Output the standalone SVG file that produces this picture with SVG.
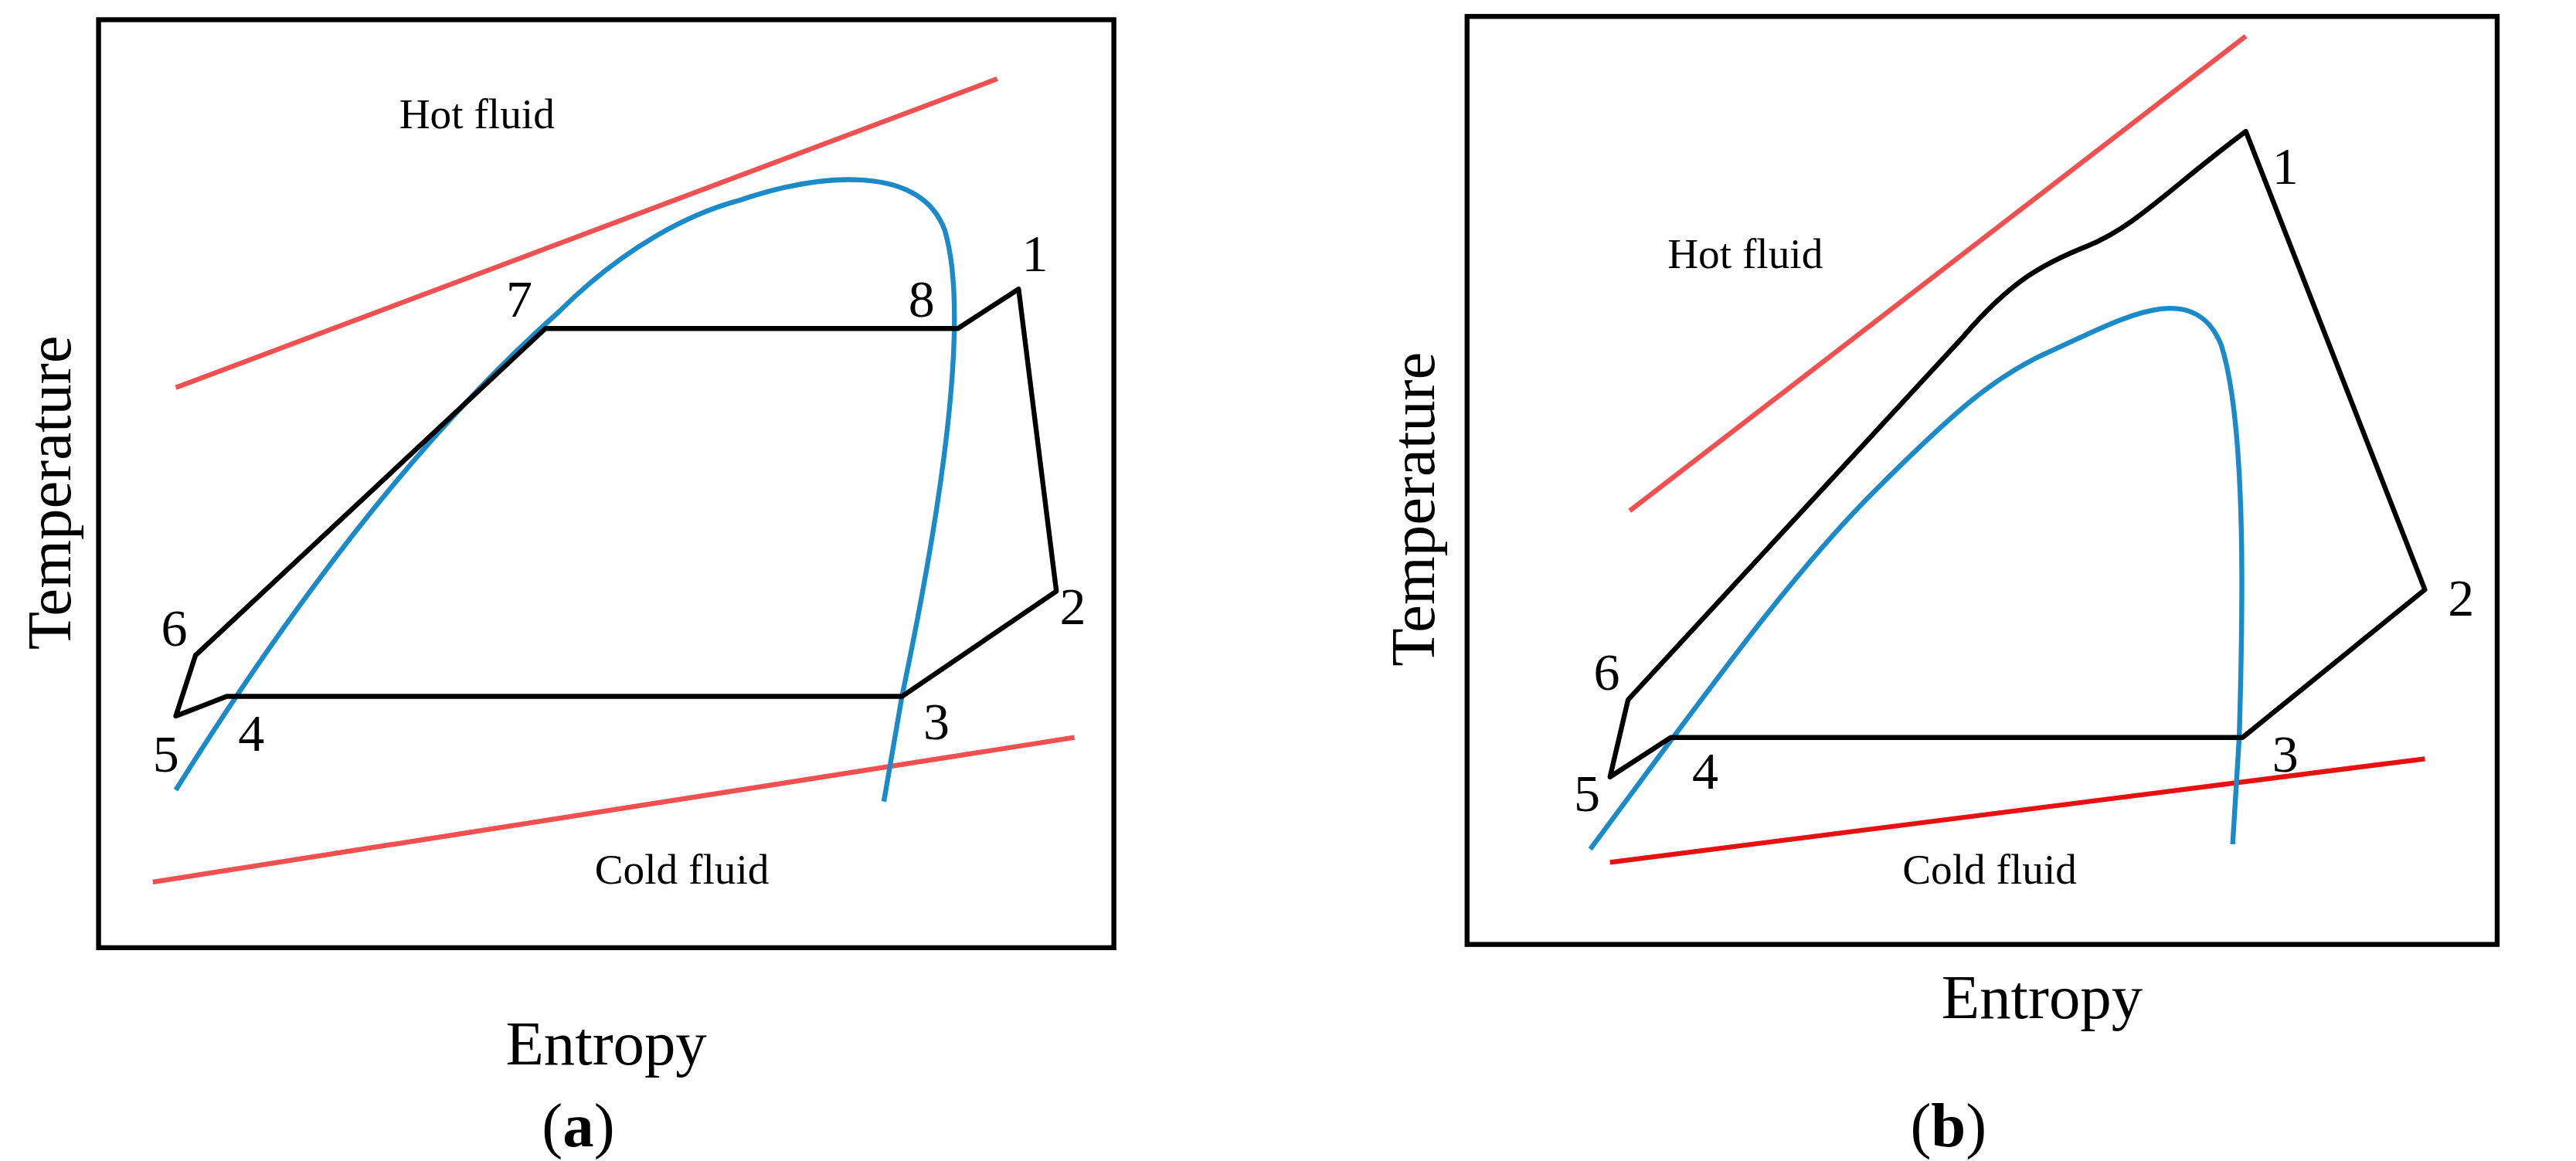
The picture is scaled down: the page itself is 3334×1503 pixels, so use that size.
<svg xmlns="http://www.w3.org/2000/svg" width="3334" height="1503" viewBox="0 0 3334 1503">
<style>
text{font-family:"Liberation Serif","Times New Roman",serif;fill:#000}
.lbl{font-size:32px}
.fl{font-size:26px}
.ax{font-size:38px}
.cyc{fill:none;stroke:#000;stroke-width:3;stroke-linejoin:round}
.dome{fill:none;stroke:#1a8ac8;stroke-width:3}
.hot{stroke:#f05050;stroke-width:3}
.box{fill:#fff;stroke:#000;stroke-width:3}
</style>
<rect width="3334" height="1503" fill="#fff"/>
<g transform="scale(2.1263)">
<g id="panel-a">
<rect class="box" x="60" y="12" width="618" height="565"/>
<line class="hot" x1="107" y1="236" x2="607" y2="48"/>
<line class="hot" x1="93" y1="537" x2="654" y2="449"/>
<text class="fl" x="243" y="78">Hot fluid</text>
<text class="fl" x="362" y="538">Cold fluid</text>
<path class="dome" d="M107,481 C170,380 250,270 340,190 C380,150 420,130 450,122 C500,105 560,100 575,140 C590,190 575,300 549,424 L538,488"/>
<path class="cyc" d="M107,436 L119,399 L332,200 L583,200 L620,176 L643,360 L549,424 L138,424 Z"/>
<text class="lbl" x="622" y="165">1</text>
<text class="lbl" x="645" y="380">2</text>
<text class="lbl" x="562" y="450">3</text>
<text class="lbl" x="145" y="457">4</text>
<text class="lbl" x="93" y="470">5</text>
<text class="lbl" x="98" y="393">6</text>
<text class="lbl" x="308" y="193">7</text>
<text class="lbl" x="553" y="193">8</text>
<text class="ax" transform="translate(43,300) rotate(-90)" text-anchor="middle">Temperature</text>
<text class="ax" x="369" y="648" text-anchor="middle">Entropy</text>
<text class="ax" x="352" y="698" text-anchor="middle">(<tspan font-weight="bold">a</tspan>)</text>
</g>
<g id="panel-b">
<rect class="box" x="893" y="10" width="627" height="565"/>
<line class="hot" x1="992" y1="311" x2="1367" y2="22"/>
<line x1="980" y1="525" x2="1476" y2="462" stroke="#e81010" stroke-width="3"/>
<text class="fl" x="1015" y="163">Hot fluid</text>
<text class="fl" x="1158" y="538">Cold fluid</text>
<path class="dome" d="M968,517 C1040,420 1090,350 1140,300 C1190,250 1215,228 1250,213 C1290,195 1335,168 1352,210 C1368,260 1365,380 1363,449 L1359,514"/>
<path class="cyc" d="M980,473 L991,426 L1195,205 C1225,170 1245,160 1270,150 C1300,138 1320,115 1367,80 L1476,359 L1365,449 L1017,449 Z"/>
<text class="lbl" x="1383" y="112">1</text>
<text class="lbl" x="1490" y="375">2</text>
<text class="lbl" x="1383" y="470">3</text>
<text class="lbl" x="1030" y="480">4</text>
<text class="lbl" x="958" y="494">5</text>
<text class="lbl" x="970" y="420">6</text>
<text class="ax" transform="translate(873,310) rotate(-90)" text-anchor="middle">Temperature</text>
<text class="ax" x="1243" y="620" text-anchor="middle">Entropy</text>
<text class="ax" x="1186" y="698" text-anchor="middle">(<tspan font-weight="bold">b</tspan>)</text>
</g>
</g>
<g id="connectors"></g>
</svg>
